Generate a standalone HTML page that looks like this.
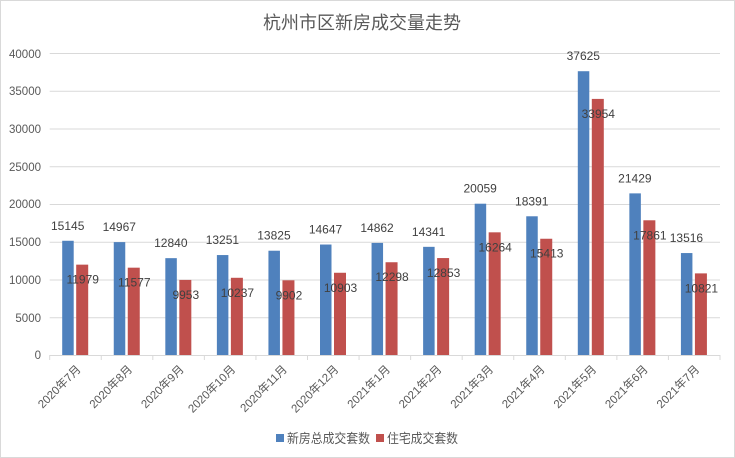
<!DOCTYPE html>
<html><head><meta charset="utf-8"><style>
html,body{margin:0;padding:0;background:#fff;}
svg{display:block;font-family:"Liberation Sans","Noto Sans CJK SC",sans-serif;}
</style></head><body>
<svg width="735" height="458" viewBox="0 0 735 458" xmlns="http://www.w3.org/2000/svg">
<rect x="0.5" y="0.5" width="734" height="457" fill="#fff" stroke="#d9d9d9"/>
<text x="362" y="29" text-anchor="middle" font-size="18" fill="#595959">杭州市区新房成交量走势</text>
<g stroke="#d9d9d9" stroke-width="1">
<line x1="49.7" x2="720" y1="53.5" y2="53.5"/>
<line x1="49.7" x2="720" y1="91.2" y2="91.2"/>
<line x1="49.7" x2="720" y1="129" y2="129"/>
<line x1="49.7" x2="720" y1="166.7" y2="166.7"/>
<line x1="49.7" x2="720" y1="204.5" y2="204.5"/>
<line x1="49.7" x2="720" y1="242.2" y2="242.2"/>
<line x1="49.7" x2="720" y1="280" y2="280"/>
<line x1="49.7" x2="720" y1="317.7" y2="317.7"/>
<line x1="49.7" x2="720" y1="355.5" y2="355.5"/>
</g>
<g font-size="11.5" fill="#595959" text-anchor="end">
<text x="41" y="58">40000</text><text x="41" y="95">35000</text><text x="41" y="133">30000</text>
<text x="41" y="171">25000</text><text x="41" y="208">20000</text><text x="41" y="246">15000</text>
<text x="41" y="284">10000</text><text x="41" y="322">5000</text><text x="41" y="359">0</text>
</g>
<g id="ticks" stroke="#d9d9d9"></g>
<g id="bars"></g>
<g id="labels" font-size="12" fill="#404040" text-anchor="middle"></g>
<g id="xl" font-size="11.5" fill="#595959" text-anchor="end"></g>
<rect x="276" y="434" width="8" height="8" fill="#4f81bd"/>
<text x="287" y="443" font-size="13" fill="#595959" textLength="83" lengthAdjust="spacingAndGlyphs">新房总成交套数</text>
<rect x="376" y="434" width="8" height="8" fill="#c0504d"/>
<text x="387" y="443" font-size="13" fill="#595959" textLength="71" lengthAdjust="spacingAndGlyphs">住宅成交套数</text>
<script>
var a=[15145,14967,12840,13251,13825,14647,14862,14341,20059,18391,37625,21429,13516];
var b=[11979,11577,9953,10237,9902,10903,12298,12853,16264,15413,33954,17861,10821];
var c=["2020年7月","2020年8月","2020年9月","2020年10月","2020年11月","2020年12月","2021年1月","2021年2月","2021年3月","2021年4月","2021年5月","2021年6月","2021年7月"];
var ns="http://www.w3.org/2000/svg",x0=49.7,w=51.56,y0=355,k=301.7/40000;
function el(p,t,at,tx){var e=document.createElementNS(ns,t);for(var q in at)e.setAttribute(q,at[q]);if(tx)e.textContent=tx;document.getElementById(p).appendChild(e);}
for(var i=0;i<=13;i++){var tx=x0+i*w;el("ticks","line",{x1:tx,x2:tx,y1:355,y2:360});}
for(var i=0;i<13;i++){var g=x0+i*w;var ha=a[i]*k,hb=b[i]*k;
el("bars","rect",{x:g+12.5,y:y0-ha,width:11.5,height:ha,fill:"#4f81bd"});
el("bars","rect",{x:g+26.5,y:y0-hb,width:12,height:hb,fill:"#c0504d"});
el("labels","text",{x:g+18,y:y0-ha-11},String(a[i]));
el("labels","text",{x:g+33,y:y0-hb+19},String(b[i]));
var cx=g+w/2+6;el("xl","text",{x:cx,y:370,transform:"rotate(-45 "+cx+" 370)"},c[i]);}
</script>
</svg>
</body></html>
